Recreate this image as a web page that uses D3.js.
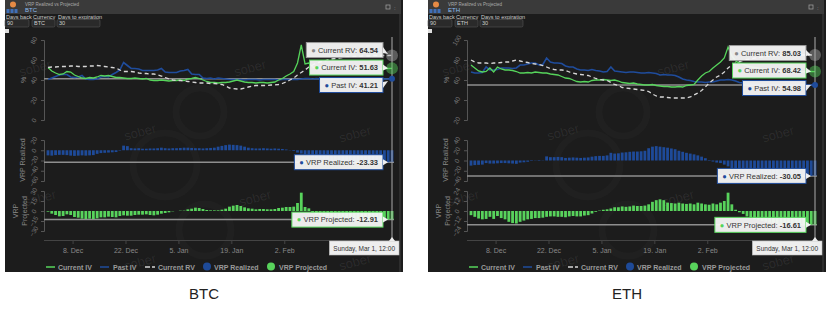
<!DOCTYPE html>
<html>
<head>
<meta charset="utf-8">
<script src="https://cdn.jsdelivr.net/npm/d3@7"></script>
<style>
  body { margin: 0; background: #fff; }
  svg { display: block; font-family: "Liberation Sans", Arial, sans-serif; }
</style>
</head>
<body>
<svg id="chart" width="828" height="320"></svg>
<script>
//----------------------------------
// Data (daily, 1 Dec 12:00 -> 1 Mar 12:00)
//----------------------------------
const btcCurrentIV = [52.5,49,47,45.5,46,48.5,48,45,43.5,42,
  41.5,42.5,42,43,44.5,44,44.5,43.5,42.5,42.5,
  42,41.5,41.5,42,41.5,41,41.5,40,39.5,39.5,
  40,39.5,39,39.5,39.5,40,39.5,41,41.5,42.5,
  41.5,40,38.5,37.5,37.5,37,37.5,37.5,38,39,
  40,39,38,37.5,37.5,37,37.5,37.5,37,37.5,
  38,40,41.5,44,46,48.5,57,75,56,57,
  53,52,52.5,51.5,52,51,52,51.5,52,51,
  51.5,52,51.5,52,51,51.5,52,51.5,51,51.5,
  51.5,51.63];
const btcPastIV = [40.5,42,43.5,45,45.5,45.5,43,42.5,43,44.5,
  41,40.5,40.5,41,43,43.5,43,45.5,47.5,50,
  57.5,54.5,51.5,51.5,51,49.5,49.5,49.5,49.5,50,
  51.5,48,47.5,47.5,47.5,49,49.5,50.5,46,45.5,
  45.5,42,41.5,42,41,42,41.5,41,40.5,40.5,
  40.5,40.5,40,40.5,40.5,40.5,40,40.5,40.5,40.5,
  40.5,40,40.5,40.5,40.5,40.5,40.5,41,41.5,41.5,
  41,41.5,41,41,41.5,41,41,41.5,41,41,
  41.5,41,41,41.5,41,41,41.5,41,41,41,
  41,41.21];
const btcCurrentRV = [52.5,53,53,53.5,53.5,53.5,54,54,53.5,53.5,
  53.5,54,54,54.5,54,53.5,53,52.5,52,50,
  48.5,48.5,48.5,48,47,46.5,46.5,46,46,45,
  44,42.5,41,40,39.5,39.5,39,38.5,38,37.5,
  37,37,37,36.5,36.5,36,35.5,34,32,31.5,
  31,31,32,33,34,34.5,34.5,34.5,34.5,35,
  35,35.5,36.5,38,40,42,45,47.5,50,53,
  55,57,58,59,60,61,61.5,62,62.5,63,
  63,63.5,63.5,64,64,64,64.5,64.5,64.5,64.5,
  64.5,64.54];
const btcVrpRealized = [-10,-10.5,-9.5,-9,-9,-9.5,-10.5,-11,-10.5,-10,
  -10.5,-10,-9.5,-7,-5.5,-5,-4.5,-4,-3.5,-1,
  9,8,4,3.5,4,3,3,3.5,3.5,4,
  5,4,3.5,4,4,4.5,5,5,4.5,4,
  4,3.5,4,4.5,5,7,8.5,10,11,10.5,
  10,9,7,5,4,3.5,3.5,4,3.5,3,
  3.5,3,2.5,1.5,0.5,-1.5,-4.5,-6.5,-8.5,-11.5,
  -14,-15.5,-17,-18,-18.5,-20,-20.5,-20.5,-21.5,-22,
  -21.5,-22.5,-22.5,-22.5,-23,-23,-23,-23.5,-23.5,-23.5,
  -23.5,-23.33];
const btcVrpProjected = [-1,-4,-6,-8,-7.5,-5,-6,-9,-10,-11.5,
  -12,-11.5,-12,-11,-9.5,-9.5,-8.5,-9,-9.5,-7.5,
  -6.5,-7,-7,-6,-5.5,-5.5,-5,-6,-6.5,-5.5,
  -4,-3,-2,-0.5,0,0.5,0.5,2.5,3.5,5,
  4.5,3,1.5,1,1,1,2,3.5,6.5,8,
  9,7.5,5.5,4,3.5,2.5,3,3,2.5,2.5,
  3,4.5,5,6,6,6.5,12,27.5,6,4,
  -2,-5,-5.5,-7.5,-8,-10,-9.5,-10.5,-10.5,-12,
  -11.5,-11.5,-12,-12,-13,-12.5,-12.5,-13,-13.5,-13,
  -13,-12.91];

const ethCurrentIV = [75,72,69,68,68.5,72,68,73,71,70,
  70,69.5,68.5,67,67,67.5,67,68,67.5,67,
  67,66,65.5,65,63.5,62,61.5,60,58.5,58,
  58.5,58,59.5,60,60,60.5,60,59.5,60,59,
  57.5,57,56.5,57,56,55.5,55,55,55.5,54.5,
  54,53.5,53.5,53,53,53.5,53,54.5,55,55.5,
  60,64,67,68.5,72,75,78,82,93,84,
  79,77,76,74,73,72.5,72,71,70.5,70,
  70,69.5,69,69,68.5,69,68.5,68.5,68,68.5,
  68.5,68.42];
const ethPastIV = [68,67,67,67.5,73,70,70,70.5,72,72,
  72,71.5,72,75,75,76,77,77,75,75.5,
  82,78,77,77,76.5,74,73,73,71,70,
  70,69.5,70.5,69.5,69,68,68.5,73,69,68.5,
  68,67.5,68,68,67.5,67,67,67.5,67,66.5,
  65,65.5,65,65,64.5,63,61,60,59.5,58.5,
  58,58,57.5,58,58,59,60,60,60.5,60,
  59,57.5,57,56.5,56,55.5,55,55.5,55,55,
  55.5,55,55,55,55.5,55,55,55,55,55,
  55,54.98];
const ethCurrentRV = [80,78,77,77,77,76.5,77,77,77.5,78,
  78,79,80,79,78,77.5,76.5,76,75.5,74.5,
  73,71.5,70.5,70,70,69.5,68,67,66,65.5,
  65,64.5,63,61.5,60.5,60,59.5,57.5,55.5,54.5,
  52.5,52,51.5,51,50.5,50,49.5,48.5,46,44,
  43,43,42.5,42,42,42,42,42,43,45,
  47,49.5,53,57,60,63,65,68,72,75,
  77,78.5,79.5,80.5,81,82,82.5,83,83.5,84,
  84,84.5,84.5,85,85,85,85,85,85,85,
  85,85.03];
const ethVrpRealized = [-10,-9,-8.5,-8,-5,-6,-6,-5.5,-5,-5,
  -5.5,-6,-6.5,-4,-3.5,-2.5,-1,-0.5,-1,0.5,
  8,6.5,6.5,7,6.5,5,5.5,6,5.5,5,
  5.5,6,7.5,8.5,9,9,10,15,13.5,14,
  15.5,16,17,17.5,17.5,18,19,24,27,28,
  27,26,25,23.5,22,19,17,15,13.5,12,
  10,7.5,4.5,1,-2,-4,-5,-8,-11.5,-15,
  -18,-21,-22.5,-24,-25,-26.5,-27.5,-27.5,-28.5,-29,
  -28.5,-29.5,-29.5,-30,-29.5,-30,-30,-30,-30,-30,
  -30,-30.05];
const ethVrpProjected = [-5,-7,-9,-10,-9.5,-7,-9.5,-6,-8.5,-10,
  -13,-14.5,-15,-13,-11.5,-10,-9.5,-8.5,-8.5,-8,
  -7,-6.5,-6.5,-7,-7,-7.5,-6.5,-6,-6.5,-6.5,
  -5.5,-5,-3,-1,0.5,1.5,2,3,4.5,4.5,
  5.5,5,5.5,6.5,6,6,6.5,8,11,13,
  14,13,10,9.5,9,10,9,8.5,9,8,
  10,9,8,7.5,9,8,10,12,22,8,
  1.5,-1.5,-3.5,-6.5,-8,-9.5,-10.5,-12,-13,-14,
  -14,-15,-15.5,-16,-16.5,-16,-16.5,-16.5,-17,-16.5,
  -16.5,-16.61];

// axis ticks (the 16 Feb tick sits under the date label, so it carries no text)
const xTickDates = ["2019-12-08", "2019-12-22", "2020-01-05", "2020-01-19", "2020-02-02", "2020-02-16"];
const btcIvTicks = [0, 20, 40, 60, 80];
const btcRealizedTicks = [-60, -40, -20, 0, 20];
const btcProjectedTicks = [-30, -15, 0, 15, 30];
const ethIvTicks = [20, 40, 60, 80, 100];
const ethRealizedTicks = [-40, -20, 0, 20, 40];
const ethProjectedTicks = [-24, -12, 0, 12, 24];

const seriesNames = ["Current IV", "Past IV", "Current RV", "VRP Realized", "VRP Projected"];

//----------------------------------
// Setup
//----------------------------------
const startDate = new Date(2019, 11, 1, 12);
const dates = btcCurrentIV.map((_, i) => d3.timeDay.offset(startDate, i));
const tickDates = xTickDates.map(s => d3.timeParse("%Y-%m-%d")(s));
const monthFmt = d3.timeFormat("%b");

const cIV = "#56d45b", cPast = "#1f4c9c", cRV = "#d6d6d6";
const cReal = "#1e4a98", cProj = "#58d35c";

const svg = d3.select("#chart");

// push overlapping tooltip centres apart, like a split tooltip does
function spread(targets, h) {
  const pos = targets.slice();
  for (let it = 0; it < 60; it++) {
    let moved = false;
    for (let i = 1; i < pos.length; i++) {
      if (pos[i] - pos[i - 1] < h - 0.01) {
        const mid = (pos[i] + pos[i - 1]) / 2;
        pos[i - 1] = mid - h / 2;
        pos[i] = mid + h / 2;
        moved = true;
      }
    }
    if (!moved) break;
  }
  return pos;
}

function drawPanel(ox, id, coin, s) {
  const g = svg.append("g").attr("transform", `translate(${ox},0)`);

  g.append("clipPath").attr("id", "clip-" + id)
    .append("rect").attr("x", 5).attr("y", 14).attr("width", 398).attr("height", 258);

  g.append("rect")
    .attr("x", 5).attr("y", 0).attr("width", 398).attr("height", 272)
    .attr("fill", "#1c1c1c");
  g.append("line")
    .attr("x1", 400).attr("x2", 400).attr("y1", 14).attr("y2", 272)
    .attr("stroke", "#333").attr("stroke-width", 1.5);

  // watermarks
  const wm = g.append("g").attr("clip-path", `url(#clip-${id})`);
  [[200, 112, 24], [165, 165, 32], [205, 230, 26]].forEach(c => {
    wm.append("circle").attr("cx", c[0]).attr("cy", c[1]).attr("r", c[2])
      .attr("fill", "none").attr("stroke", "rgba(255,255,255,0.018)").attr("stroke-width", 7);
  });
  [[35, 68], [250, 68], [140, 132], [355, 134],
   [40, 198], [255, 198], [140, 262], [355, 262]].forEach(p => {
    wm.append("text")
      .attr("transform", `translate(${p[0]},${p[1]}) rotate(-15)`)
      .attr("text-anchor", "middle").attr("dominant-baseline", "central")
      .style("font-size", "13px")
      .attr("fill", "rgba(255,255,255,0.07)")
      .text("sober");
  });

  // header bar
  g.append("rect").attr("x", 5).attr("y", 0).attr("width", 396).attr("height", 14).attr("fill", "#3a3a3a");
  g.append("circle").attr("cx", 13).attr("cy", 4.5).attr("r", 3).attr("fill", "#e58a45");
  [8, 12, 16].forEach(cx => {
    g.append("rect").attr("x", cx - 1.5).attr("y", 9).attr("width", 3).attr("height", 4).attr("fill", "#3f6fb8");
  });
  g.append("text").attr("x", 25).attr("y", 5.5).style("font-size", "4.5px").attr("fill", "#aaa").text("VRP Realized vs Projected");
  g.append("text").attr("x", 25).attr("y", 11.5).style("font-size", "6px").attr("fill", "#8bbcf0").text(coin);
  g.append("rect").attr("x", 386).attr("y", 5).attr("width", 4).attr("height", 4)
    .attr("fill", "none").attr("stroke", "#999").attr("stroke-width", 0.8);
  g.append("text").attr("x", 394).attr("y", 9.5).style("font-size", "6px").attr("fill", "#999").text(":");

  // controls
  const controls = [
    {label: "Days back", value: "90", x: 5, w: 24},
    {label: "Currency", value: coin, x: 32, w: 23},
    {label: "Days to expiration", value: "30", x: 57, w: 43}
  ];
  controls.forEach(c => {
    g.append("text").attr("x", c.x + 1).attr("y", 18.5).style("font-size", "5.5px").attr("fill", "#ccc").text(c.label);
    g.append("rect").attr("x", c.x).attr("y", 19.5).attr("width", c.w).attr("height", 7.5).attr("rx", 1.5)
      .attr("fill", "#2a2a2a").attr("stroke", "#555").attr("stroke-width", 0.6);
    g.append("text").attr("x", c.x + 2).attr("y", 25.3).style("font-size", "5.5px").attr("fill", "#ccc").text(c.value);
  });
  g.append("rect").attr("x", 5).attr("y", 29).attr("width", 4).attr("height", 4).attr("fill", "#ddd");

  // scales
  const xScale = d3.scaleTime().domain([dates[0], dates[dates.length - 1]]).range([48, 392]);
  const yIV = d3.scaleLinear().domain(d3.extent(s.ivTicks)).range([120, 40]);
  const yReal = d3.scaleLinear().domain(d3.extent(s.realTicks)).range([181, 140]);
  const yProj = d3.scaleLinear().domain(d3.extent(s.projTicks)).range([231, 191]);
  const axisX = 44;

  // y axes
  [[yIV, s.ivTicks], [yReal, s.realTicks], [yProj, s.projTicks]].forEach(([sc, ticks]) => {
    const ax = g.append("g").attr("transform", `translate(${axisX},0)`)
      .call(d3.axisLeft(sc).tickValues(ticks).tickSize(3).tickFormat(d3.format("d")));
    ax.select(".domain").attr("stroke", "#555");
    ax.selectAll(".tick line").attr("stroke", "#555");
    ax.selectAll(".tick text")
      .attr("fill", "#777").style("font-size", "6.5px")
      .attr("text-anchor", "middle").attr("x", null).attr("dy", "0.32em")
      .attr("transform", "translate(-10,0) rotate(-60)");
  });

  // axis titles
  const titleStyle = sel => sel.attr("fill", "#888").style("font-size", "7px")
    .attr("text-anchor", "middle").attr("dominant-baseline", "central");
  titleStyle(g.append("text").attr("transform", `translate(23,${yIV(s.ivTicks[2])}) rotate(-90)`)).text("%");
  titleStyle(g.append("text").attr("transform", "translate(22,160) rotate(-90)")).text("VRP Realized");
  titleStyle(g.append("text").attr("transform", "translate(15,211) rotate(-90)")).text("VRP");
  titleStyle(g.append("text").attr("transform", "translate(24,211) rotate(-90)")).text("Projected");

  const last = dates.length - 1;
  const cx = xScale(dates[last]);

  // x axis
  const xa = g.append("g").attr("transform", "translate(0,240)")
    .call(d3.axisBottom(xScale).tickValues(tickDates).tickSize(4).tickPadding(4)
      .tickFormat(d => xScale(d) > cx - 60 ? "" : `${d.getDate()}. ${monthFmt(d)}`));
  xa.select(".domain").attr("d", `M${axisX},0.5H395`).attr("stroke", "#444");
  xa.selectAll(".tick line").attr("stroke", "#444");
  xa.selectAll(".tick text").attr("fill", "#888").style("font-size", "7px");

  // horizontal crosshairs
  [yIV(s.pastIV[last]), yReal(s.real[last]), yProj(s.proj[last])].forEach(yy => {
    g.append("line").attr("x1", axisX).attr("x2", cx + 2).attr("y1", yy).attr("y2", yy)
      .attr("stroke", "#8e8e8e").attr("stroke-width", 1.5);
  });

  // bars
  const bw = 2.8;
  [[s.real, yReal, cReal], [s.proj, yProj, cProj]].forEach(([vals, sc, col]) => {
    g.append("g").selectAll("rect").data(vals).join("rect")
      .attr("x", (d, i) => xScale(dates[i]) - bw / 2)
      .attr("y", d => Math.min(sc(d), sc(0)))
      .attr("width", bw)
      .attr("height", d => Math.abs(sc(d) - sc(0)))
      .attr("fill", col);
  });

  // lines
  const lineFor = vals => d3.line().x((d, i) => xScale(dates[i])).y(d => yIV(d))(vals);
  g.append("path").attr("d", lineFor(s.pastIV)).attr("fill", "none").attr("stroke", cPast).attr("stroke-width", 1.6);
  g.append("path").attr("d", lineFor(s.iv)).attr("fill", "none").attr("stroke", cIV).attr("stroke-width", 1.3);
  g.append("path").attr("d", lineFor(s.rv)).attr("fill", "none").attr("stroke", cRV)
    .attr("stroke-width", 1.3).attr("stroke-dasharray", "4,3");

  // vertical crosshair
  g.append("line").attr("x1", cx).attr("x2", cx).attr("y1", 37).attr("y2", 241)
    .attr("stroke", "#aaa").attr("stroke-width", 1);

  // hover halos
  g.append("circle").attr("cx", cx).attr("cy", yIV(s.rv[last])).attr("r", 6).attr("fill", "rgba(170,170,170,0.45)");
  g.append("circle").attr("cx", cx).attr("cy", yIV(s.iv[last])).attr("r", 6).attr("fill", "rgba(86,212,91,0.45)");
  g.append("circle").attr("cx", cx).attr("cy", yIV(s.pastIV[last])).attr("r", 3).attr("fill", cPast);

  // tooltips
  function tooltip(label, value, col, border, yc, ty) {
    const tg = g.append("g");
    const rect = tg.append("rect");
    const txt = tg.append("text").style("font-size", "7.5px").attr("fill", "#333");
    txt.append("tspan").attr("fill", col).text("\u25CF ");
    txt.append("tspan").text(label + ": ");
    txt.append("tspan").style("font-weight", "bold").text(value.toFixed(2));
    const tw = txt.node().getComputedTextLength();
    const right = cx - 9, w = tw + 10, h = 15;
    rect.attr("x", right - w).attr("y", yc - h / 2).attr("width", w).attr("height", h)
      .attr("fill", "rgba(247,247,247,0.95)").attr("stroke", border).attr("stroke-width", 1);
    txt.attr("x", right - w + 5).attr("y", yc + 2.7);
    tg.append("path")
      .attr("d", `M${right},${yc - 3}L${right + 5},${Math.max(yc - 4, Math.min(yc + 4, ty))}L${right},${yc + 3}Z`)
      .attr("fill", "rgba(247,247,247,0.95)");
  }
  const ivTargets = [yIV(s.rv[last]), yIV(s.iv[last]), yIV(s.pastIV[last])];
  const ivPos = spread(ivTargets, 17.5);
  tooltip("Current RV", s.rv[last], "#888", "#9a9a9a", ivPos[0], ivTargets[0]);
  tooltip("Current IV", s.iv[last], cIV, cIV, ivPos[1], ivTargets[1]);
  tooltip("Past IV", s.pastIV[last], cPast, cPast, ivPos[2], ivTargets[2]);
  tooltip("VRP Realized", s.real[last], cPast, cPast, yReal(s.real[last]), yReal(s.real[last]));
  tooltip("VRP Projected", s.proj[last], cIV, cIV, yProj(s.proj[last]), yProj(s.proj[last]));

  // date label
  const dg = g.append("g");
  const drect = dg.append("rect");
  const dtxt = dg.append("text").style("font-size", "6.5px").attr("fill", "#333")
    .text(d3.timeFormat("%A, %b %-d, %H:%M")(dates[last]));
  const dw = dtxt.node().getComputedTextLength() + 8;
  drect.attr("x", cx + 7 - dw).attr("y", 241).attr("width", dw).attr("height", 14)
    .attr("fill", "#eeeeee").attr("stroke", "#bbb").attr("stroke-width", 0.6);
  dtxt.attr("x", cx + 7 - dw + 4).attr("y", 250.5);
  dg.append("path").attr("d", `M${cx - 3},241L${cx},237L${cx + 3},241Z`).attr("fill", "#eee");

  // legend
  const lg = g.append("g").style("font-size", "7px").style("font-weight", "bold").attr("fill", "#9a9a9a");
  const ly = 267;
  lg.append("line").attr("x1", 46).attr("x2", 55).attr("y1", ly).attr("y2", ly).attr("stroke", cIV).attr("stroke-width", 1.5);
  lg.append("text").attr("x", 58).attr("y", ly + 2.5).text(seriesNames[0]);
  lg.append("line").attr("x1", 100).attr("x2", 109).attr("y1", ly).attr("y2", ly).attr("stroke", cPast).attr("stroke-width", 1.5);
  lg.append("text").attr("x", 113).attr("y", ly + 2.5).text(seriesNames[1]);
  lg.append("line").attr("x1", 145).attr("x2", 155).attr("y1", ly).attr("y2", ly).attr("stroke", cRV)
    .attr("stroke-width", 1.5).attr("stroke-dasharray", "5,2");
  lg.append("text").attr("x", 158).attr("y", ly + 2.5).text(seriesNames[2]);
  lg.append("circle").attr("cx", 207).attr("cy", ly - 0.5).attr("r", 4).attr("fill", cReal);
  lg.append("text").attr("x", 214).attr("y", ly + 2.5).text(seriesNames[3]);
  lg.append("circle").attr("cx", 271).attr("cy", ly - 0.5).attr("r", 4).attr("fill", cProj);
  lg.append("text").attr("x", 279).attr("y", ly + 2.5).text(seriesNames[4]);

  // caption
  svg.append("text").attr("x", ox + 204).attr("y", 299)
    .attr("text-anchor", "middle").style("font-size", "15px").attr("fill", "#222")
    .text(coin);
}

drawPanel(0, "btc", "BTC", {
  iv: btcCurrentIV, pastIV: btcPastIV, rv: btcCurrentRV,
  real: btcVrpRealized, proj: btcVrpProjected,
  ivTicks: btcIvTicks, realTicks: btcRealizedTicks, projTicks: btcProjectedTicks
});
drawPanel(423, "eth", "ETH", {
  iv: ethCurrentIV, pastIV: ethPastIV, rv: ethCurrentRV,
  real: ethVrpRealized, proj: ethVrpProjected,
  ivTicks: ethIvTicks, realTicks: ethRealizedTicks, projTicks: ethProjectedTicks
});
</script>
</body>
</html>
